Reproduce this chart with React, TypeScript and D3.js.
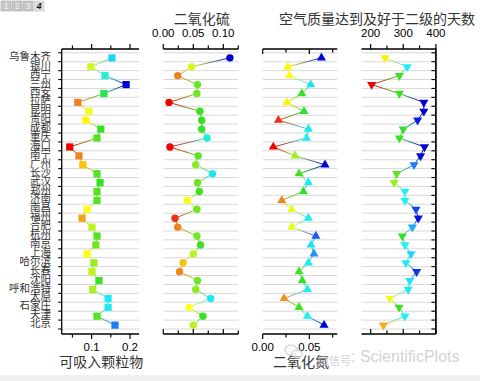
import React from "react";
import * as d3 from "d3";

// ---------- data (bottom → top order) ----------
const cities = ["北京","天津","石家庄","太原","呼和浩特","沈阳","长春","哈尔滨","上海","南京","杭州","合肥","福州","南昌","济南","郑州","武汉","长沙","广州","南宁","海口","重庆","成都","贵阳","昆明","拉萨","西安","兰州","西宁","银川","乌鲁木齐"];
const pm10 = [0.161,0.114,0.143,0.143,0.103,0.119,0.101,0.106,0.088,0.111,0.114,0.101,0.075,0.088,0.114,0.114,0.122,0.114,0.077,0.067,0.043,0.114,0.124,0.085,0.093,0.064,0.132,0.19,0.135,0.098,0.153];
const so2 = [0.05,0.066,0.043,0.079,0.054,0.057,0.027,0.033,0.05,0.062,0.056,0.024,0.0195,0.056,0.04,0.06,0.057,0.082,0.054,0.058,0.011,0.073,0.064,0.064,0.061,0.0095,0.056,0.057,0.024,0.047,0.111];
const no2 = [0.0658,0.048,0.039,0.023,0.048,0.0425,0.039,0.049,0.055,0.0518,0.057,0.031,0.049,0.031,0.0204,0.0436,0.049,0.039,0.0668,0.0347,0.0114,0.047,0.049,0.0168,0.0443,0.026,0.042,0.0515,0.0286,0.027,0.063];
const goodDays = [239,305,287,259,315,320,341,308,324,305,297,328,346,339,305,305,272,280,333,353,365,288,300,344,363,363,288,203,288,312,244];

const titles = ["可吸入颗粒物","二氧化硫","二氧化氮","空气质量达到及好于二级的天数"];
const pmTicks = [0.05,0.1,0.15,0.2];
const pmLabels = [0.1,0.2];
const so2Ticks = [0,0.025,0.05,0.075,0.1,0.125];
const so2Labels = [0,0.05,0.1];
const no2Ticks = [0,0.025,0.05,0.075];
const no2Labels = [0,0.05];
const dayTicks = [200,250,300,350,400];
const dayLabels = [200,300,400];
const tabLabels = ["1","2","3","4"];
const watermarkCn = "微信号";
const watermarkEn = ": ScientificPlots";

// ---------- styling ----------
const colorStops = [0,0.08,0.14,0.21,0.25,0.33,0.42,0.5,0.6,0.63,0.74,0.8,0.88,1];
const colorRange = ["#ee0000","#ee1010","#ee8020","#f09020","#ffee00","#ffff20","#a0f020","#40e020","#30e030","#20f0f0","#20e0f8","#2080f0","#0010e0","#0000d0"];
const palette = d3.scaleLinear<string>().domain(colorStops).range(colorRange).clamp(true);

const CJK = "'Noto Sans CJK SC', 'Noto Sans', sans-serif";
const LAT = "'Liberation Sans', Arial, sans-serif";

const TOP = 49;
const BOTTOM = 334;

const rows = [...cities].reverse();
const y = d3.scaleBand().domain(rows).range([52.8, 329]);
const bw = y.bandwidth();
const my = (c: string) => (y(c) as number) + bw / 2 + 0.6;
const gridYs = [...rows.map((c) => y(c) as number), 329];

type PanelCfg = {
  id: string;
  values: number[];
  x: d3.ScaleLinear<number, number>;
  ticks: number[];
  labels: number[];
  fmt: (n: number) => string;
  labelSide: "top" | "bottom";
  topDir: number;
  bottomDir: number;
  shape: "square" | "circle" | "tri" | "triDown";
  title: string;
  titleSide: "top" | "bottom";
};

const panels: PanelCfg[] = [
  { id: "pm", values: pm10, x: d3.scaleLinear().domain([0.022, 0.2235]).range([61.7, 139]), ticks: pmTicks, labels: pmLabels, fmt: d3.format(".1f"), labelSide: "bottom", topDir: -1, bottomDir: 1, shape: "square", title: titles[0], titleSide: "bottom" },
  { id: "so", values: so2, x: d3.scaleLinear().domain([0, 0.125]).range([163.3, 238.3]), ticks: so2Ticks, labels: so2Labels, fmt: d3.format(".2f"), labelSide: "top", topDir: -1, bottomDir: -1, shape: "circle", title: titles[1], titleSide: "top" },
  { id: "no", values: no2, x: d3.scaleLinear().domain([0, 0.08]).range([262.7, 337.3]), ticks: no2Ticks, labels: no2Labels, fmt: d3.format(".2f"), labelSide: "bottom", topDir: 1, bottomDir: 1, shape: "tri", title: titles[2], titleSide: "bottom" },
  { id: "dy", values: goodDays, x: d3.scaleLinear().domain([172, 400]).range([361.5, 435.9]), ticks: dayTicks, labels: dayLabels, fmt: d3.format("d"), labelSide: "top", topDir: -1, bottomDir: -1, shape: "triDown", title: titles[3], titleSide: "top" },
];

const triPath = d3.symbol(d3.symbolTriangle, 36)() as string;

function Marker({ shape, cx, cy, fill }: { shape: string; cx: number; cy: number; fill: string }) {
  if (shape === "square") return <rect x={cx - 3.6} y={cy - 3.6} width={7.2} height={7.2} fill={fill} />;
  if (shape === "circle") return <circle cx={cx} cy={cy} r={3.7} fill={fill} />;
  if (shape === "tri") return <path d={triPath} transform={`translate(${cx},${cy})`} fill={fill} />;
  return <path d={triPath} transform={`translate(${cx},${cy}) rotate(180)`} fill={fill} />;
}

function Panel({ p }: { p: PanelCfg }) {
  const [x0, x1] = p.x.range();
  const ext = d3.extent(p.values) as [number, number];
  const norm = d3.scaleLinear().domain(ext).range([0, 1]);
  const col = (v: number) => palette(norm(v));
  const pts = rows.map((c) => {
    const v = p.values[cities.indexOf(c)];
    return { c, v, px: p.x(v), py: my(c), color: col(v) };
  });
  const cx = (x0 + x1) / 2;
  return (
    <g>
      <defs>
        {pts.slice(1).map((b, i) => {
          const a = pts[i];
          return (
            <linearGradient key={i} id={`${p.id}g${i}`} gradientUnits="userSpaceOnUse" x1={a.px} y1={a.py} x2={b.px} y2={b.py}>
              <stop offset="0" stopColor={a.color} />
              <stop offset="1" stopColor={b.color} />
            </linearGradient>
          );
        })}
      </defs>
      {gridYs.map((gy, i) => (
        <line key={i} x1={x0} x2={x1} y1={gy} y2={gy} stroke="#d8d8d8" strokeWidth={1} />
      ))}
      {/* top axis */}
      <line x1={x0} x2={x1} y1={TOP} y2={TOP} stroke="#000" strokeWidth={1.3} />
      {p.ticks.map((t) => (
        <line key={"t" + t} x1={p.x(t)} x2={p.x(t)} y1={TOP} y2={TOP + p.topDir * (p.labels.includes(t) ? 5 : 3.5)} stroke="#000" strokeWidth={1.2} />
      ))}
      {/* bottom axis */}
      <line x1={x0} x2={x1} y1={BOTTOM} y2={BOTTOM} stroke="#000" strokeWidth={1.3} />
      {p.ticks.map((t) => (
        <line key={"b" + t} x1={p.x(t)} x2={p.x(t)} y1={BOTTOM} y2={BOTTOM + p.bottomDir * (p.labels.includes(t) ? 5 : 3.5)} stroke="#000" strokeWidth={1.2} />
      ))}
      {p.labels.map((t) => (
        <text key={"l" + t} x={p.x(t)} y={p.labelSide === "top" ? 37 : 350.5} textAnchor="middle" fontFamily={LAT} fontSize={11.5} fill="#000">
          {p.fmt(t)}
        </text>
      ))}
      <text x={p.id === "dy" ? 377 : cx + 1} y={p.titleSide === "top" ? 23.5 : 367} textAnchor="middle" fontFamily={CJK} fontSize={14} fill="#333">
        {p.title}
      </text>
      {/* connecting lines */}
      {pts.slice(1).map((b, i) => {
        const a = pts[i];
        return <line key={"s" + i} x1={a.px} y1={a.py} x2={b.px} y2={b.py + 0.01} stroke={`url(#${p.id}g${i})`} strokeWidth={1} />;
      })}
      {pts.map((d) => (
        <Marker key={d.c} shape={p.shape} cx={d.px} cy={d.py} fill={d.color} />
      ))}
    </g>
  );
}

export default function App() {
  const p1 = panels[0];
  const p4 = panels[3];
  const lx = p1.x.range()[0];
  const rx = p4.x.range()[1];
  return (
    <svg width={480} height={381} style={{ position: "absolute", left: 0, top: 0, background: "#fff" }}>
      <rect x={0} y={0} width={480} height={381} fill="#fff" />
      <rect x={0} y={375} width={480} height={6} fill="#f0f0f0" />
      {/* page tabs */}
      {tabLabels.map((t, i) => (
        <g key={t}>
          <rect x={1 + i * 11} y={1} width={10} height={10} fill={i === 3 ? "#dcdcdc" : "#c4c4c4"} stroke={i === 3 ? "#c8c8c8" : "#b0b0b0"} strokeWidth={0.6} />
          <text x={6 + i * 11} y={9.3} textAnchor="middle" fontFamily={LAT} fontSize={8.5} fontWeight={i === 3 ? "bold" : "normal"} fontStyle={i === 3 ? "italic" : "normal"} fill={i === 3 ? "#111" : "#f4f4f4"}>
            {t}
          </text>
        </g>
      ))}
      {panels.map((p) => (
        <Panel key={p.id} p={p} />
      ))}
      {/* left axis with city labels */}
      <line x1={lx} x2={lx} y1={TOP} y2={BOTTOM} stroke="#000" strokeWidth={1.3} />
      {gridYs.map((gy, i) => (
        <line key={i} x1={lx} x2={lx - 3.5} y1={gy} y2={gy} stroke="#000" strokeWidth={1.1} />
      ))}
      {rows.map((c) => (
        <text key={c} x={51} y={my(c) - 2.5} textAnchor="end" dominantBaseline="central" fontFamily={CJK} fontSize={10.5} fill="#333">
          {c}
        </text>
      ))}
      {/* right axis */}
      <line x1={rx} x2={rx} y1={TOP - 0.5} y2={BOTTOM} stroke="#000" strokeWidth={1.7} />
      {gridYs.map((gy, i) => (
        <line key={i} x1={rx} x2={rx - 4.5} y1={gy} y2={gy} stroke="#000" strokeWidth={1.1} />
      ))}
      {/* watermark */}
      <g opacity={0.75}>
        <ellipse cx={291} cy={350} rx={6} ry={5} fill="none" stroke="#c8c8c8" strokeWidth={1.3} />
        <ellipse cx={297} cy={354} rx={5} ry={4.2} fill="#fff" fillOpacity={0.6} stroke="#c8c8c8" strokeWidth={1.3} />
        <text x={318} y={365} fontFamily={CJK} fontSize={11} fill="#c4c4c4">
          {watermarkCn}
        </text>
        <text x={351} y={361.5} fontFamily={LAT} fontSize={16} fill="#c4c4c4">
          {watermarkEn}
        </text>
      </g>
    </svg>
  );
}
